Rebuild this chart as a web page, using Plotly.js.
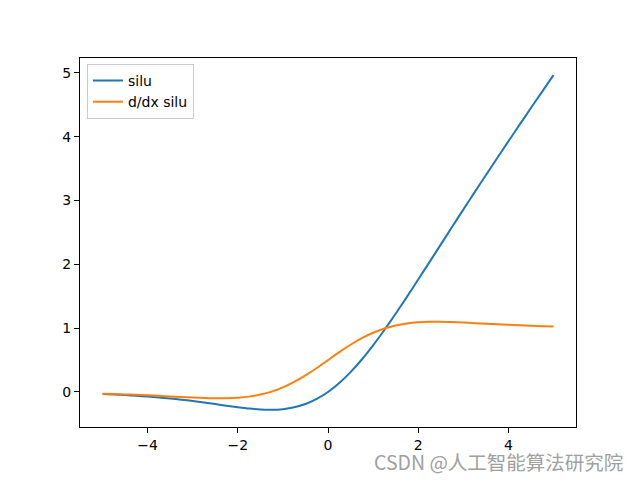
<!DOCTYPE html>
<html>
<head>
<meta charset="utf-8">
<script src="https://cdn.plot.ly/plotly-3.0.1.min.js"></script>
<style>html,body{margin:0;padding:0;background:#fff;}#chart{width:640px;height:480px;}</style>
</head>
<body>
<div id="chart"></div>
<script>
const xValues = [-5,-4.75,-4.5,-4.25,-4,-3.75,-3.5,-3.25,-3,-2.75,-2.5,-2.25,-2,-1.75,-1.5,-1.25,-1,-0.75,-0.5,-0.25,0,0.25,0.5,0.75,1,1.25,1.5,1.75,2,2.25,2.5,2.75,3,3.25,3.5,3.75,4,4.25,4.5,4.75,5];
const siluValues = [-0.033,-0.041,-0.049,-0.060,-0.072,-0.086,-0.103,-0.121,-0.142,-0.165,-0.190,-0.215,-0.238,-0.259,-0.274,-0.278,-0.269,-0.241,-0.189,-0.109,0,0.141,0.311,0.509,0.731,0.972,1.226,1.491,1.762,2.035,2.310,2.585,2.858,3.129,3.397,3.664,3.928,4.190,4.451,4.709,4.967];
const dSiluValues = [-0.027,-0.032,-0.038,-0.045,-0.053,-0.061,-0.070,-0.079,-0.088,-0.095,-0.099,-0.099,-0.091,-0.073,-0.041,0.006,0.072,0.157,0.260,0.376,0.5,0.624,0.740,0.843,0.928,0.994,1.041,1.073,1.091,1.099,1.099,1.095,1.088,1.079,1.070,1.061,1.053,1.045,1.038,1.032,1.027];
const seriesNames = ['silu', 'd/dx silu'];
const xTicks = [-4,-2,0,2,4];
const yTicks = [0,1,2,3,4,5];
const watermark = 'CSDN @人工智能算法研究院';

const traces = [
  {x: xValues, y: siluValues, name: seriesNames[0], mode: 'lines', line: {color: '#1f77b4', width: 2, shape: 'spline', smoothing: 0.6}},
  {x: xValues, y: dSiluValues, name: seriesNames[1], mode: 'lines', line: {color: '#ff7f0e', width: 2, shape: 'spline', smoothing: 0.6}}
];
const axisCommon = {
  showline: true, mirror: true, linecolor: '#000', linewidth: 1,
  ticks: 'outside', ticklen: 5, tickwidth: 1, tickcolor: '#000',
  showgrid: false, zeroline: false,
  tickfont: {family: 'DejaVu Sans', size: 14, color: '#000'}
};
const layout = {
  width: 640, height: 480,
  margin: {l: 80, r: 64, t: 58, b: 53},
  paper_bgcolor: '#fff', plot_bgcolor: '#fff',
  font: {family: 'DejaVu Sans', color: '#000'},
  xaxis: Object.assign({}, axisCommon, {range: [-5.5, 5.5], tickvals: xTicks}),
  yaxis: Object.assign({}, axisCommon, {range: [-0.549, 5.235], tickvals: yTicks}),
  showlegend: true,
  legend: {x: 0.014, y: 0.984, xanchor: 'left', yanchor: 'top', bgcolor: 'rgba(255,255,255,0.8)', bordercolor: '#cccccc', borderwidth: 1, font: {family: 'DejaVu Sans', size: 14, color: '#000'}},
  annotations: [{
    text: watermark, xref: 'paper', yref: 'paper', x: 1.099, y: -0.093,
    xanchor: 'right', yanchor: 'middle', showarrow: false,
    font: {family: 'Noto Sans CJK SC', size: 19.5, color: '#a0a0a0'}
  }]
};
Plotly.newPlot('chart', traces, layout, {displayModeBar: false, staticPlot: true});
</script>
</body>
</html>
